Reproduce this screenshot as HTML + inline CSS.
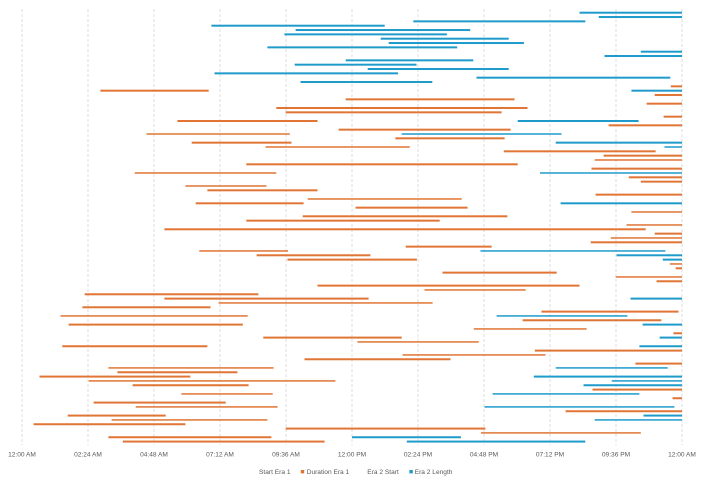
<!DOCTYPE html>
<html>
<head>
<meta charset="utf-8">
<style>
html,body{margin:0;padding:0;background:#fff;}
body{width:702px;height:482px;overflow:hidden;}
svg{display:block;}
text{font-family:"Liberation Sans",sans-serif;font-size:6.6px;fill:#595959;}
</style>
</head>
<body>
<svg width="702" height="482" viewBox="0 0 702 482" xmlns="http://www.w3.org/2000/svg">
<rect width="702" height="482" fill="#fff"/>
<g stroke="#D6D6D6" stroke-width="0.8" stroke-dasharray="3,2">
<line x1="22" y1="9" x2="22" y2="445"/>
<line x1="88" y1="9" x2="88" y2="445"/>
<line x1="154" y1="9" x2="154" y2="445"/>
<line x1="220" y1="9" x2="220" y2="445"/>
<line x1="286" y1="9" x2="286" y2="445"/>
<line x1="352" y1="9" x2="352" y2="445"/>
<line x1="418" y1="9" x2="418" y2="445"/>
<line x1="484" y1="9" x2="484" y2="445"/>
<line x1="550" y1="9" x2="550" y2="445"/>
<line x1="616" y1="9" x2="616" y2="445"/>
<line x1="682" y1="9" x2="682" y2="445"/>
</g>
<g id="bars">
<g transform="translate(0,12.70)"><rect x="579.5" y="-1" width="102.5" height="2" fill="#1F9BCB"/></g>
<g transform="translate(0,17.03)"><rect x="598.7" y="-1" width="83.3" height="2" fill="#1F9BCB"/></g>
<g transform="translate(0,21.36)"><rect x="413.3" y="-1" width="172" height="2" fill="#1F9BCB"/></g>
<g transform="translate(0,25.70)"><rect x="211.4" y="-1" width="173.3" height="2" fill="#1F9BCB"/></g>
<g transform="translate(0,30.03)"><rect x="295.6" y="-1" width="174.6" height="2" fill="#1F9BCB"/></g>
<g transform="translate(0,34.36)"><rect x="284.4" y="-1" width="162.5" height="2" fill="#1F9BCB"/></g>
<g transform="translate(0,38.69)"><rect x="380.7" y="-1" width="128" height="2" fill="#1F9BCB"/></g>
<g transform="translate(0,43.02)"><rect x="388.7" y="-1" width="135.2" height="2" fill="#1F9BCB"/></g>
<g transform="translate(0,47.36)"><rect x="267.4" y="-1" width="189.8" height="2" fill="#1F9BCB"/></g>
<g transform="translate(0,51.69)"><rect x="640.8" y="-1" width="41.2" height="2" fill="#1F9BCB"/></g>
<g transform="translate(0,56.02)"><rect x="604.5" y="-1" width="77.5" height="2" fill="#1F9BCB"/></g>
<g transform="translate(0,60.35)"><rect x="345.7" y="-1" width="127.6" height="2" fill="#1F9BCB"/></g>
<g transform="translate(0,64.68)"><rect x="294.7" y="-1" width="121.8" height="2" fill="#1F9BCB"/></g>
<g transform="translate(0,69.02)"><rect x="367.7" y="-1" width="141" height="2" fill="#1F9BCB"/></g>
<g transform="translate(0,73.35)"><rect x="214.5" y="-1" width="183.6" height="2" fill="#1F9BCB"/></g>
<g transform="translate(0,77.68)"><rect x="476.5" y="-1" width="193.8" height="2" fill="#1F9BCB"/></g>
<g transform="translate(0,82.01)"><rect x="300.5" y="-1" width="131.8" height="2" fill="#1F9BCB"/></g>
<g transform="translate(0,86.34)"><rect x="670.8" y="-1" width="11.2" height="2" fill="#E07535"/></g>
<g transform="translate(0,90.68)"><rect x="100.4" y="-1" width="108.3" height="2" fill="#E07535"/><rect x="631.4" y="-1" width="50.6" height="2" fill="#1F9BCB"/></g>
<g transform="translate(0,95.01)"><rect x="654.7" y="-1" width="27.3" height="2" fill="#E07535"/></g>
<g transform="translate(0,99.34)"><rect x="345.7" y="-1" width="168.8" height="2" fill="#E07535"/></g>
<g transform="translate(0,103.67)"><rect x="646.6" y="-1" width="35.4" height="2" fill="#E07535"/></g>
<g transform="translate(0,108.00)"><rect x="276.3" y="-1" width="251.2" height="2" fill="#E07535"/></g>
<g transform="translate(0,112.34)"><rect x="285.7" y="-1" width="215.9" height="2" fill="#E07535"/></g>
<g transform="translate(0,116.67)"><rect x="663.6" y="-1" width="18.4" height="2" fill="#E07535"/></g>
<g transform="translate(0,121.00)"><rect x="177.4" y="-1" width="140.1" height="2" fill="#E07535"/><rect x="517.7" y="-1" width="120.9" height="2" fill="#1F9BCB"/></g>
<g transform="translate(0,125.33)"><rect x="608.6" y="-1" width="73.4" height="2" fill="#E07535"/></g>
<g transform="translate(0,129.66)"><rect x="338.6" y="-1" width="172" height="2" fill="#E07535"/></g>
<g transform="translate(0,134.00)"><rect x="146.5" y="-0.75" width="143.3" height="1.5" fill="#E07535"/><rect x="401.7" y="-0.75" width="159.8" height="1.5" fill="#1F9BCB"/></g>
<g transform="translate(0,138.33)"><rect x="395.4" y="-1" width="109.2" height="2" fill="#E07535"/></g>
<g transform="translate(0,142.66)"><rect x="191.7" y="-1" width="99.8" height="2" fill="#E07535"/><rect x="555.7" y="-1" width="126.3" height="2" fill="#1F9BCB"/></g>
<g transform="translate(0,146.99)"><rect x="265.6" y="-0.75" width="144.1" height="1.5" fill="#E07535"/><rect x="664.5" y="-0.75" width="17.5" height="1.5" fill="#1F9BCB"/></g>
<g transform="translate(0,151.32)"><rect x="503.8" y="-1" width="151.8" height="2" fill="#E07535"/></g>
<g transform="translate(0,155.66)"><rect x="603.6" y="-1" width="78.4" height="2" fill="#E07535"/></g>
<g transform="translate(0,159.99)"><rect x="594.7" y="-0.75" width="87.3" height="1.5" fill="#E07535"/></g>
<g transform="translate(0,164.32)"><rect x="246.3" y="-1" width="271.4" height="2" fill="#E07535"/></g>
<g transform="translate(0,168.65)"><rect x="591.5" y="-1" width="90.5" height="2" fill="#E07535"/></g>
<g transform="translate(0,172.98)"><rect x="134.7" y="-0.75" width="141.6" height="1.5" fill="#E07535"/><rect x="540" y="-0.75" width="142" height="1.5" fill="#1F9BCB"/></g>
<g transform="translate(0,177.32)"><rect x="628.7" y="-1" width="53.3" height="2" fill="#E07535"/></g>
<g transform="translate(0,181.65)"><rect x="640.8" y="-1" width="41.2" height="2" fill="#E07535"/></g>
<g transform="translate(0,185.98)"><rect x="185.4" y="-0.75" width="81.1" height="1.5" fill="#E07535"/></g>
<g transform="translate(0,190.31)"><rect x="207.4" y="-1" width="110.1" height="2" fill="#E07535"/></g>
<g transform="translate(0,194.64)"><rect x="595.6" y="-1" width="86.4" height="2" fill="#E07535"/></g>
<g transform="translate(0,198.98)"><rect x="307.7" y="-0.75" width="154" height="1.5" fill="#E07535"/></g>
<g transform="translate(0,203.31)"><rect x="195.7" y="-1" width="107.9" height="2" fill="#E07535"/><rect x="560.6" y="-1" width="121.4" height="2" fill="#1F9BCB"/></g>
<g transform="translate(0,207.64)"><rect x="355.6" y="-1" width="112" height="2" fill="#E07535"/></g>
<g transform="translate(0,211.97)"><rect x="631.4" y="-0.75" width="50.6" height="1.5" fill="#E07535"/></g>
<g transform="translate(0,216.30)"><rect x="302.7" y="-1" width="204.7" height="2" fill="#E07535"/></g>
<g transform="translate(0,220.64)"><rect x="246.3" y="-1" width="193.4" height="2" fill="#E07535"/></g>
<g transform="translate(0,224.97)"><rect x="626.5" y="-0.75" width="55.5" height="1.5" fill="#E07535"/></g>
<g transform="translate(0,229.30)"><rect x="164.4" y="-1" width="481.3" height="2" fill="#E07535"/></g>
<g transform="translate(0,233.63)"><rect x="654.7" y="-1" width="27.3" height="2" fill="#E07535"/></g>
<g transform="translate(0,237.96)"><rect x="610.8" y="-0.75" width="71.2" height="1.5" fill="#E07535"/></g>
<g transform="translate(0,242.30)"><rect x="590.7" y="-1" width="91.3" height="2" fill="#E07535"/></g>
<g transform="translate(0,246.63)"><rect x="405.7" y="-1" width="85.9" height="2" fill="#E07535"/></g>
<g transform="translate(0,250.96)"><rect x="199.3" y="-0.75" width="88.7" height="1.5" fill="#E07535"/><rect x="480.5" y="-0.75" width="184.9" height="1.5" fill="#1F9BCB"/></g>
<g transform="translate(0,255.29)"><rect x="256.6" y="-1" width="113.8" height="2" fill="#E07535"/><rect x="616.6" y="-1" width="65.4" height="2" fill="#1F9BCB"/></g>
<g transform="translate(0,259.62)"><rect x="287.5" y="-1" width="129.4" height="2" fill="#E07535"/><rect x="662.7" y="-1" width="19.3" height="2" fill="#1F9BCB"/></g>
<g transform="translate(0,263.96)"><rect x="669.9" y="-0.75" width="12.1" height="1.5" fill="#E07535"/></g>
<g transform="translate(0,268.29)"><rect x="675.7" y="-1" width="6.3" height="2" fill="#E07535"/></g>
<g transform="translate(0,272.62)"><rect x="442.5" y="-1" width="114.2" height="2" fill="#E07535"/></g>
<g transform="translate(0,276.95)"><rect x="615.7" y="-0.75" width="66.3" height="1.5" fill="#E07535"/></g>
<g transform="translate(0,281.28)"><rect x="656.5" y="-1" width="25.5" height="2" fill="#E07535"/></g>
<g transform="translate(0,285.62)"><rect x="317.5" y="-1" width="262" height="2" fill="#E07535"/></g>
<g transform="translate(0,289.95)"><rect x="424.5" y="-0.75" width="101.2" height="1.5" fill="#E07535"/></g>
<g transform="translate(0,294.28)"><rect x="84.7" y="-1" width="173.7" height="2" fill="#E07535"/></g>
<g transform="translate(0,298.61)"><rect x="164.4" y="-1" width="204.2" height="2" fill="#E07535"/><rect x="630.5" y="-1" width="51.5" height="2" fill="#1F9BCB"/></g>
<g transform="translate(0,302.94)"><rect x="218.6" y="-0.75" width="214" height="1.5" fill="#E07535"/></g>
<g transform="translate(0,307.28)"><rect x="82.4" y="-1" width="128.1" height="2" fill="#E07535"/></g>
<g transform="translate(0,311.61)"><rect x="541.5" y="-1" width="137" height="2" fill="#E07535"/></g>
<g transform="translate(0,315.94)"><rect x="60.5" y="-0.75" width="187.2" height="1.5" fill="#E07535"/><rect x="496.6" y="-0.75" width="130.8" height="1.5" fill="#1F9BCB"/></g>
<g transform="translate(0,320.27)"><rect x="522.6" y="-1" width="138.8" height="2" fill="#E07535"/></g>
<g transform="translate(0,324.60)"><rect x="68.6" y="-1" width="174.2" height="2" fill="#E07535"/><rect x="642.6" y="-1" width="39.4" height="2" fill="#1F9BCB"/></g>
<g transform="translate(0,328.94)"><rect x="473.8" y="-0.75" width="112.8" height="1.5" fill="#E07535"/></g>
<g transform="translate(0,333.27)"><rect x="673.4" y="-1" width="8.6" height="2" fill="#E07535"/></g>
<g transform="translate(0,337.60)"><rect x="263.3" y="-1" width="138.4" height="2" fill="#E07535"/><rect x="659.6" y="-1" width="22.4" height="2" fill="#1F9BCB"/></g>
<g transform="translate(0,341.93)"><rect x="357.4" y="-0.75" width="121.3" height="1.5" fill="#E07535"/></g>
<g transform="translate(0,346.26)"><rect x="62.3" y="-1" width="145.1" height="2" fill="#E07535"/><rect x="639.4" y="-1" width="42.6" height="2" fill="#1F9BCB"/></g>
<g transform="translate(0,350.60)"><rect x="534.8" y="-1" width="147.2" height="2" fill="#E07535"/></g>
<g transform="translate(0,354.93)"><rect x="402.6" y="-0.75" width="142.9" height="1.5" fill="#E07535"/></g>
<g transform="translate(0,359.26)"><rect x="304.5" y="-1" width="146" height="2" fill="#E07535"/></g>
<g transform="translate(0,363.59)"><rect x="635.4" y="-1" width="46.6" height="2" fill="#E07535"/></g>
<g transform="translate(0,367.92)"><rect x="108.4" y="-0.75" width="165.2" height="1.5" fill="#E07535"/><rect x="555.7" y="-0.75" width="112" height="1.5" fill="#1F9BCB"/></g>
<g transform="translate(0,372.26)"><rect x="117.4" y="-1" width="120" height="2" fill="#E07535"/></g>
<g transform="translate(0,376.59)"><rect x="39.5" y="-1" width="150.8" height="2" fill="#E07535"/><rect x="533.8" y="-1" width="148.2" height="2" fill="#1F9BCB"/></g>
<g transform="translate(0,380.92)"><rect x="88.7" y="-0.75" width="246.7" height="1.5" fill="#E07535"/><rect x="611.7" y="-0.75" width="70.3" height="1.5" fill="#1F9BCB"/></g>
<g transform="translate(0,385.25)"><rect x="132.6" y="-1" width="116" height="2" fill="#E07535"/><rect x="583.5" y="-1" width="98.5" height="2" fill="#1F9BCB"/></g>
<g transform="translate(0,389.58)"><rect x="592.5" y="-1" width="89.5" height="2" fill="#E07535"/></g>
<g transform="translate(0,393.92)"><rect x="181.4" y="-0.75" width="91.3" height="1.5" fill="#E07535"/><rect x="492.6" y="-0.75" width="146.8" height="1.5" fill="#1F9BCB"/></g>
<g transform="translate(0,398.25)"><rect x="672.5" y="-1" width="9.5" height="2" fill="#E07535"/></g>
<g transform="translate(0,402.58)"><rect x="93.6" y="-1" width="132.1" height="2" fill="#E07535"/></g>
<g transform="translate(0,406.91)"><rect x="135.7" y="-0.75" width="141.9" height="1.5" fill="#E07535"/><rect x="484.5" y="-0.75" width="189.9" height="1.5" fill="#1F9BCB"/></g>
<g transform="translate(0,411.24)"><rect x="565.6" y="-1" width="116.4" height="2" fill="#E07535"/></g>
<g transform="translate(0,415.58)"><rect x="67.7" y="-1" width="98" height="2" fill="#E07535"/><rect x="643.5" y="-1" width="38.5" height="2" fill="#1F9BCB"/></g>
<g transform="translate(0,419.91)"><rect x="111.6" y="-0.75" width="155.8" height="1.5" fill="#E07535"/><rect x="594.7" y="-0.75" width="87.3" height="1.5" fill="#1F9BCB"/></g>
<g transform="translate(0,424.24)"><rect x="33.6" y="-1" width="151.8" height="2" fill="#E07535"/></g>
<g transform="translate(0,428.57)"><rect x="285.7" y="-1" width="199.7" height="2" fill="#E07535"/></g>
<g transform="translate(0,432.90)"><rect x="481" y="-0.75" width="159.8" height="1.5" fill="#E07535"/></g>
<g transform="translate(0,437.24)"><rect x="108.4" y="-1" width="163" height="2" fill="#E07535"/><rect x="352" y="-1" width="108.9" height="2" fill="#1F9BCB"/></g>
<g transform="translate(0,441.57)"><rect x="122.8" y="-1" width="201.8" height="2" fill="#E07535"/><rect x="406.8" y="-1" width="178.5" height="2" fill="#1F9BCB"/></g>
</g>
<g text-anchor="middle">
<text x="22" y="456.4">12:00 AM</text>
<text x="88" y="456.4">02:24 AM</text>
<text x="154" y="456.4">04:48 AM</text>
<text x="220" y="456.4">07:12 AM</text>
<text x="286" y="456.4">09:36 AM</text>
<text x="352" y="456.4">12:00 PM</text>
<text x="418" y="456.4">02:24 PM</text>
<text x="484" y="456.4">04:48 PM</text>
<text x="550" y="456.4">07:12 PM</text>
<text x="616" y="456.4">09:36 PM</text>
<text x="682" y="456.4">12:00 AM</text>
</g>
<g>
<text x="259" y="474">Start Era 1</text>
<rect x="300.8" y="470" width="3.4" height="3.4" fill="#E07535"/>
<text x="306.7" y="474">Duration Era 1</text>
<text x="367.3" y="474">Era 2 Start</text>
<rect x="409.4" y="470" width="3.4" height="3.4" fill="#1F9BCB"/>
<text x="414.7" y="474">Era 2 Length</text>
</g>
</svg>
</body>
</html>
